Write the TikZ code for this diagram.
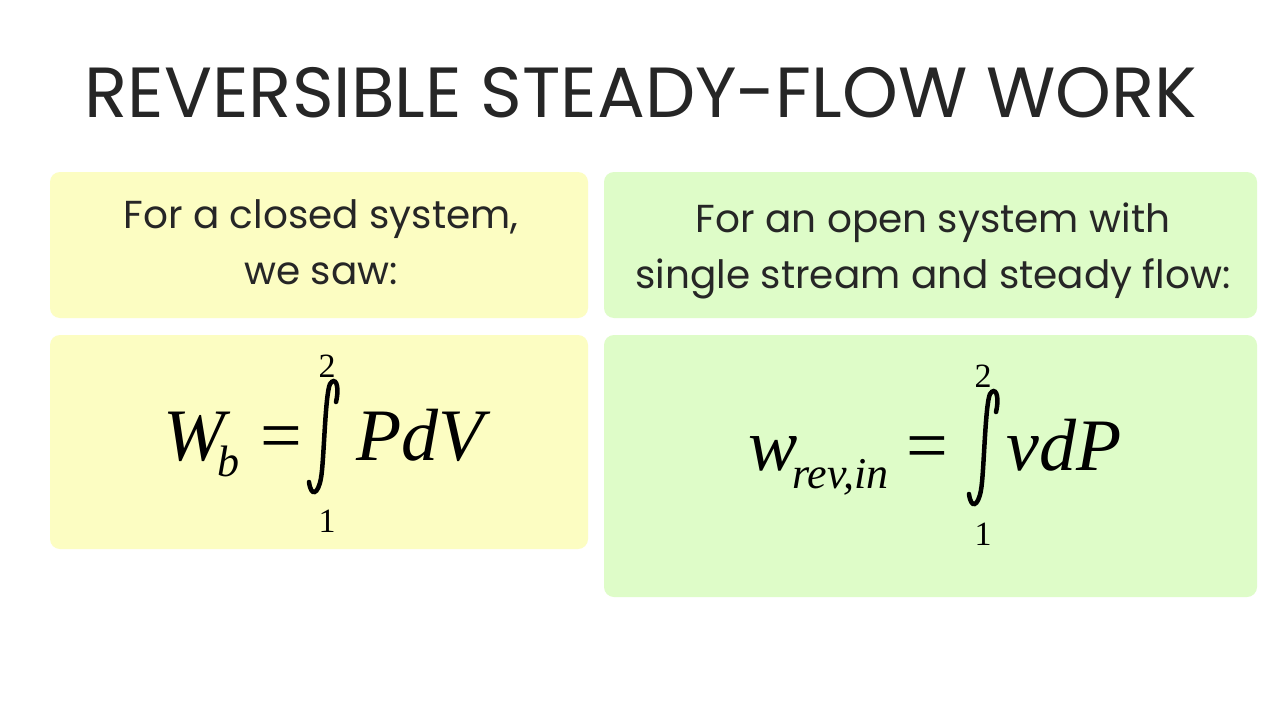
\documentclass[tikz,border=0pt]{standalone}
\usepackage{fontspec}
\setmainfont{Poppins}
\newfontfamily\mathser{Liberation Serif}
\begin{document}
\begin{tikzpicture}[x=1pt,y=-1pt,
 box/.style={rounded corners=10pt},
 txt/.style={font=\fontsize{39}{56}\selectfont,align=center,text=black!85},
 mi/.style={font=\mathser\itshape\fontsize{74}{74}\selectfont,anchor=base west,inner sep=0},
 mr/.style={font=\mathser\fontsize{74}{74}\selectfont,anchor=base west,inner sep=0},
 lim/.style={font=\mathser\fontsize{34}{34}\selectfont,inner sep=0},
 sub/.style={font=\mathser\itshape\fontsize{44}{44}\selectfont,anchor=base west,inner sep=0},
 intg/.style={line width=4.5pt,line cap=round,black}]
\useasboundingbox (0,0) rectangle (1280,720);
\fill[white] (0,0) rectangle (1280,720);
\definecolor{yel}{HTML}{FCFDC2}
\definecolor{grn}{HTML}{DEFCC8}
\node[font=\fontsize{71}{80}\selectfont,text=black!85] (title) at (641,93) {REVERSIBLE STEADY-FLOW WORK};
\fill[yel,box] (50,172) rectangle (588,318);
\fill[yel,box] (50,335) rectangle (588,549);
\fill[grn,box] (604,172) rectangle (1257,318);
\fill[grn,box] (604,335) rectangle (1257,597);
\node[txt] (t1) at (321,242) {For a closed system,\\we saw:};
\node[txt] (t2) at (933,251) {For an open system with\\single stream and steady flow:};
% left equation
\node[mi] (W) at (163,460) {W};
\node[sub] (b) at (217,476) {b};
\node[mr] (eq1) at (260,460) {=};
\draw[intg] (336,402) .. controls (340,385) and (335,376) .. (330,384) .. controls (325,395) and (324,462) .. (321,478) .. controls (318,495) and (311,497) .. (309,482);
\node[lim] (u1) at (327,366) {2};
\node[lim] (l1) at (327,521) {1};
\node[mi] (pdv) at (356,460) {PdV};
% right equation
\node[mi] (w) at (748,470) {w};
\node[sub] (rev) at (792,488) {rev,in};
\node[mr] (eq2) at (906,470) {=};
\draw[intg] (996,412) .. controls (1000,395) and (995,386) .. (990,394) .. controls (985,405) and (984,474) .. (981,490) .. controls (978,507) and (971,509) .. (969,494);
\node[lim] (u2) at (983,376) {2};
\node[lim] (l2) at (983,534) {1};
\node[mi] (vdp) at (1006,470) {vdP};
\end{tikzpicture}
\end{document}
